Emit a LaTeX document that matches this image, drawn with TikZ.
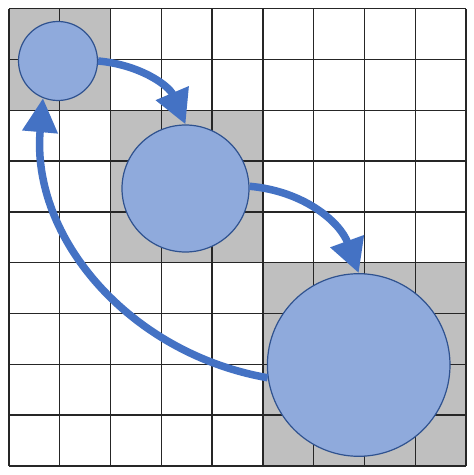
\documentclass[tikz,border=0pt]{standalone}
\usetikzlibrary{arrows.meta}
\definecolor{cellgray}{HTML}{BFBFBF}
\definecolor{circfill}{HTML}{8FAADC}
\definecolor{circdraw}{HTML}{2F528F}
\definecolor{arrowblue}{HTML}{4472C4}
\tikzset{
  ball/.style={circle, draw=circdraw, fill=circfill, line width=1.2pt, inner sep=0pt},
  flow/.style={draw=arrowblue, line width=7.5pt, -{Triangle[length=34pt,width=34pt]}},
  gridline/.style={draw=black!85, line width=1.4pt}
}
\begin{document}
\begin{tikzpicture}[x=1pt,y=1pt]
\useasboundingbox (0,0) rectangle (474,475);
\fill[white] (0,0) rectangle (474,475);
\begin{scope}[shift={(8.8,9.0)}, x=50.8pt, y=50.8pt]
  \fill[cellgray] (0,7) rectangle (2,9);
  \fill[cellgray] (2,4) rectangle (5,7);
  \fill[cellgray] (5,0) rectangle (9,4);
  \foreach \i in {0,...,9} {
    \draw[gridline] (\i,0) -- (\i,9);
    \draw[gridline] (0,\i) -- (9,\i);
  }
\end{scope}
\node[ball, minimum size=79pt] (a) at (58,414) {};
\node[ball, minimum size=127pt] (b) at (185.5,286.5) {};
\node[ball, minimum size=182.6pt] (c) at (358.7,110) {};
\draw[flow] (a.east) to[out=-5, in=113] (b.north);
\draw[flow] (b.2) to[out=-5, in=110] (c.north);
\draw[flow] (c.188) to[out=170, in=-95] (a.-112);
\end{tikzpicture}
\end{document}
